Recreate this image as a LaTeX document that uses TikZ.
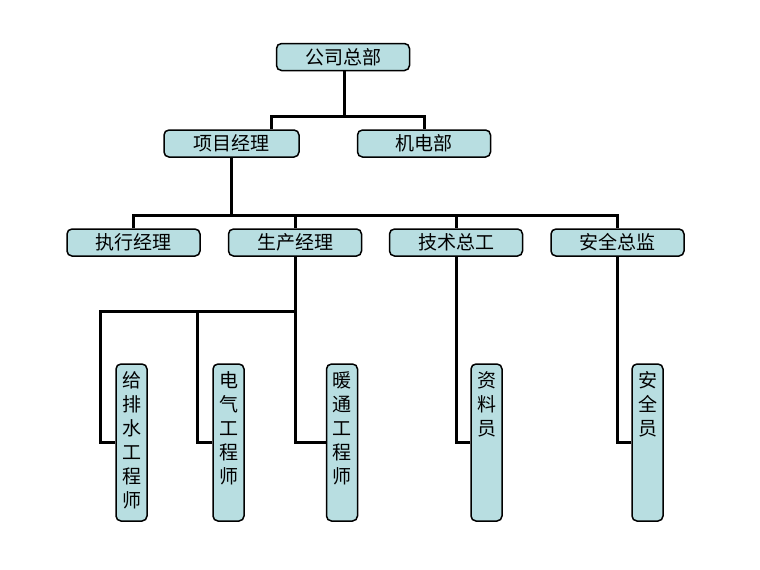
\documentclass[tikz,border=0pt]{standalone}
\usepackage{fontspec}
\newfontfamily\cjk{Noto Sans CJK SC}
\usetikzlibrary{positioning}
\definecolor{boxfill}{RGB}{184,222,225}

\begin{document}
\begin{tikzpicture}[x=1pt,y=-1pt]
\tikzstyle{hb}=[draw,fill=boxfill,line width=1.5pt,rounded corners=5pt,minimum width=133pt,minimum height=27pt,inner sep=0pt,font=\cjk\fontsize{19}{24}\selectfont]
\tikzstyle{vb}=[draw,fill=boxfill,line width=1.5pt,rounded corners=5pt,minimum width=31pt,minimum height=157pt,inner sep=0pt]
\tikzstyle{vt}=[anchor=north,inner sep=0pt,align=center,font=\cjk\fontsize{19}{24}\selectfont]
\tikzstyle{link}=[line width=3pt]
\useasboundingbox (0,0) rectangle (760,570);
% boxes
\node[hb] (hq) at (343,57) {公司总部};
\node[hb,minimum width=135pt] (pm) at (231.5,143.5) {项目经理};
\node[hb] (me) at (424,143.5) {机电部};
\foreach \n/\x/\t in {exec/133.5/执行经理,prod/295/生产经理,tech/456/技术总工,safe/617.5/安全总监} \node[hb] (\n) at (\x,242.5) {\t};
\foreach \n/\x/\t in {e1/131.5/{给\\排\\水\\工\\程\\师},e2/228.5/{电\\气\\工\\程\\师},e3/342/{暖\\通\\工\\程\\师},doc/486.5/{资\\料\\员},sfo/647.5/{安\\全\\员}} {
  \node[vb] (\n) at (\x,442.5) {};
  \node[vt] (\n-t) at ([yshift=-8pt]\n.north) {\t};
}
% links
\coordinate (j1) at (344,116);
\coordinate (j2) at (231.5,215);
\coordinate (j3) at (100,311);
\draw[link] (hq.south -| j1) -- (j1);
\draw[link] (271,0 |- pm.north) |- (j1) -| (me.north);
\draw[link] (pm.south) -- (j2);
\draw[link] (exec.north) |- (j2) -| (safe.north);
\draw[link] (prod.north) -- (prod.north |- j2);
\draw[link] (tech.north) -- (tech.north |- j2);
\draw[link] (e1.west) -| (j3) -| (prod.south);
\draw[link] (e2.west) -| (197,0 |- j3);
\draw[link] (e3.west) -| (prod.south);
\draw[link] (doc.west) -| (tech.south);
\draw[link] (sfo.west) -| (safe.south);
\end{tikzpicture}
\end{document}
